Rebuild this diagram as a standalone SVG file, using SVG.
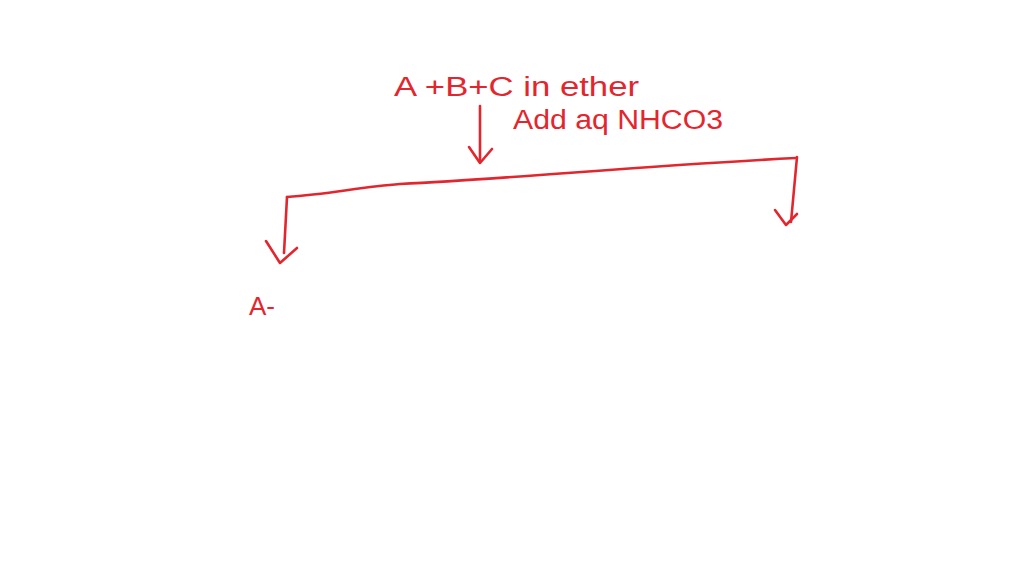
<svg xmlns="http://www.w3.org/2000/svg" width="1024" height="576" viewBox="0 0 1024 576">
<style>
.t{font-family:"Liberation Sans",Arial,sans-serif;fill:#e3262e;font-weight:normal}
.c{fill:none;stroke:#e3262e;stroke-width:2.6;stroke-linecap:round;stroke-linejoin:round}
</style>
<rect width="1024" height="576" fill="#ffffff"/>
<g id="node-start">
<text class="t" x="394" y="96" font-size="27" textLength="245" lengthAdjust="spacingAndGlyphs">A +B+C in ether</text>
</g>
<g id="label-reagent">
<text class="t" x="513" y="129" font-size="27" textLength="210" lengthAdjust="spacingAndGlyphs">Add aq NHCO3</text>
</g>
<g id="node-left">
<text class="t" x="249" y="315" font-size="26">A-</text>
</g>
<g id="connectors">
<path class="c" d="M480 106 L480 162"/>
<path class="c" d="M469 147 L480 163 L492 149"/>
<path class="c" d="M287 197 C330 194 360 187 400 184 C520 178 640 166 796 158"/>
<path class="c" d="M287 197 L284 253"/>
<path class="c" d="M266 241 L280 263 L297 248"/>
<path class="c" d="M797 157 L791 222"/>
<path class="c" d="M775 210 L786 225 L797 214"/>
</g>
</svg>
